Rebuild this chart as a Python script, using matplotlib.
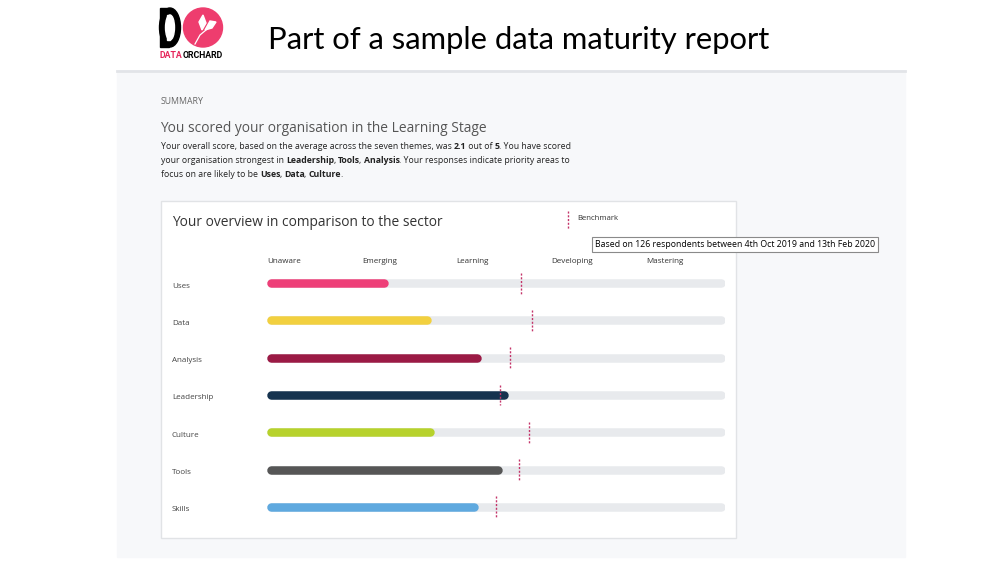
"""Part of a sample data maturity report - overview vs sector benchmark."""

import matplotlib

matplotlib.use("Agg")

import matplotlib.pyplot as plt
import numpy as np
from matplotlib import transforms
from matplotlib.patches import Circle, Ellipse, Polygon, Rectangle

# ---- data -----------------------------------------------------------------
themes = ["Uses", "Data", "Analysis", "Leadership", "Culture", "Tools", "Skills"]
scores = [1.32, 1.79, 2.34, 2.63, 1.83, 2.57, 2.31]
benchmark = [2.77, 2.89, 2.65, 2.54, 2.86, 2.75, 2.50]
stages = ["Unaware", "Emerging", "Learning", "Developing", "Mastering"]
theme_colors = ["#ee3f78", "#f2d03f", "#9b1a45", "#16334f", "#b7d22c", "#565656", "#5fa9df"]
max_score = 5

overall = "2.1"
strongest = ["Leadership", "Tools", "Analysis"]
priority = ["Uses", "Data", "Culture"]
respondents = 126

SANS = ["Open Sans", "DejaVu Sans"]

fig = plt.figure(figsize=(10, 5.63), dpi=100)
bg = fig.add_axes([0, 0, 1, 1])
bg.set_xlim(0, 1000)
bg.set_ylim(563, 0)
bg.axis("off")

# ---- header + logo ----------------------------------------------------------
bg.add_patch(Rectangle((160, 8), 9, 39, color="black"))
bg.add_patch(Ellipse((170, 27.5), 21, 39, color="black"))
bg.add_patch(Ellipse((170, 27.5), 9, 25, color="white"))
bg.add_patch(Rectangle((167, 15), 3, 25, color="white"))
bg.add_patch(Circle((203, 27.5), 19.5, color="#ee3d6e"))
bg.add_patch(Polygon([[205, 30], [210, 21], [216, 22], [212, 28]], color="white"))
bg.add_patch(Polygon([[202, 30], [199, 22], [203, 15], [206, 23]], color="white"))
bg.plot([195, 200, 206], [44, 35, 30], color="white", lw=0.9)

t = bg.text(160, 58, "DATA", color="#e5245a", fontsize=6.3, fontweight="bold",
            family=["Roboto", "DejaVu Sans"], va="baseline")
bg.annotate("ORCHARD", xy=(1, 0), xycoords=t, va="bottom", color="black",
            fontsize=6.3, fontweight="bold", family=["Roboto", "DejaVu Sans"])

bg.text(268, 40, "Part of a sample data maturity report", fontsize=22.3,
        family=["Lato", "DejaVu Sans"], color="black", va="center")

# ---- grey page ---------------------------------------------------------------
bg.add_patch(Rectangle((117, 71), 788, 486, color="#f7f8fa", zorder=0))
bg.plot([117, 905], [70.5, 70.5], color="#e2e4e8", lw=2, zorder=1)

bg.text(161, 101, "SUMMARY", fontsize=6.3, color="#666666", family=SANS, va="center")
bg.text(160, 128, "You scored your organisation in the Learning Stage", fontsize=9.9,
        color="#555555", family=SANS, va="center")


def rich_line(x, y, parts):
    # parts: (text, bold) pieces chained left to right
    t = bg.text(x, y, parts[0][0], fontsize=6.3, color="#222222", family=SANS,
                fontweight="bold" if parts[0][1] else "normal", va="baseline")
    prev_bold = parts[0][1]
    for s, b in parts[1:]:
        t = bg.annotate(s, xy=(1, 0), xycoords=t, va="bottom", fontsize=6.3,
                        xytext=(-0.8 if prev_bold else 0, 0), textcoords="offset pixels",
                        color="#222222", family=SANS,
                        fontweight="bold" if b else "normal")
        prev_bold = b


rich_line(161, 149, [("Your overall score, based on the average across the seven themes, was ", 0),
                     (overall, 1), (" out of ", 0), (str(max_score), 1),
                     (". You have scored", 0)])
line2 = [("your organisation strongest in ", 0)]
for i, s in enumerate(strongest):
    line2.append((s, 1))
    line2.append((", " if i < len(strongest) - 1 else ". Your responses indicate priority areas to", 0))
rich_line(161, 163, line2)
line3 = [("focus on are likely to be ", 0)]
for i, s in enumerate(priority):
    line3.append((s, 1))
    line3.append((", " if i < len(priority) - 1 else ".", 0))
rich_line(161, 177, line3)

# ---- card ---------------------------------------------------------------------
bg.add_patch(Rectangle((161, 201), 575, 337, facecolor="white", edgecolor="#e1e3e6",
                       lw=1, zorder=1))
bg.text(172, 222, "Your overview in comparison to the sector", fontsize=9.9,
        color="#333333", family=SANS, va="center", zorder=2)
bg.plot([568, 568], [211, 229], color="#c4356a", lw=1, ls=(0, (1.5, 1.2)), zorder=2)
bg.text(577, 219, "Benchmark", fontsize=5.6, color="#333333", family=SANS,
        va="center", zorder=2)
bg.text(595, 244.5, f"Based on {respondents} respondents between 4th Oct 2019 and 13th Feb 2020",
        fontsize=6.35, color="black", family=SANS, va="center", zorder=3,
        bbox=dict(boxstyle="square,pad=0.3", fc="white", ec="#8a8a8a", lw=0.8))

# ---- bars -----------------------------------------------------------------------
ax = fig.add_axes([267 / 1000, 1 - 525.4 / 563, 458 / 1000, 260.8 / 563])
ax.set_xlim(0, max_score)
ax.set_ylim(len(themes) - 0.5, -0.5)
ax.axis("off")
ax.patch.set_alpha(0)

bar_px = 8.5
bar_pt = bar_px * 72 / 100
cap = (bar_px / 2) / 458 * max_score
y = np.arange(len(themes))
for i, (s, c) in enumerate(zip(scores, theme_colors)):
    ax.plot([cap, max_score - cap], [i, i], color="#e8eaed", lw=bar_pt,
            solid_capstyle="round")
    ax.plot([cap, s - cap], [i, i], color=c, lw=bar_pt, solid_capstyle="round")
ax.vlines(benchmark, y - 0.28, y + 0.28, colors="#c4356a", lw=1, linestyles=(0, (1.5, 1.2)))

stage_x = np.arange(len(stages)) * 1.035
for sx, name in zip(stage_x, stages):
    ax.text(sx, -0.57, name, fontsize=5.8, color="#333333", family=SANS, va="center")

tr = transforms.blended_transform_factory(bg.transData, ax.transData)
for i, name in enumerate(themes):
    ax.text(172, i + 0.08, name, transform=tr, fontsize=5.8, color="#444444",
            family=SANS, va="center")

fig.savefig("out.png", dpi=100)
